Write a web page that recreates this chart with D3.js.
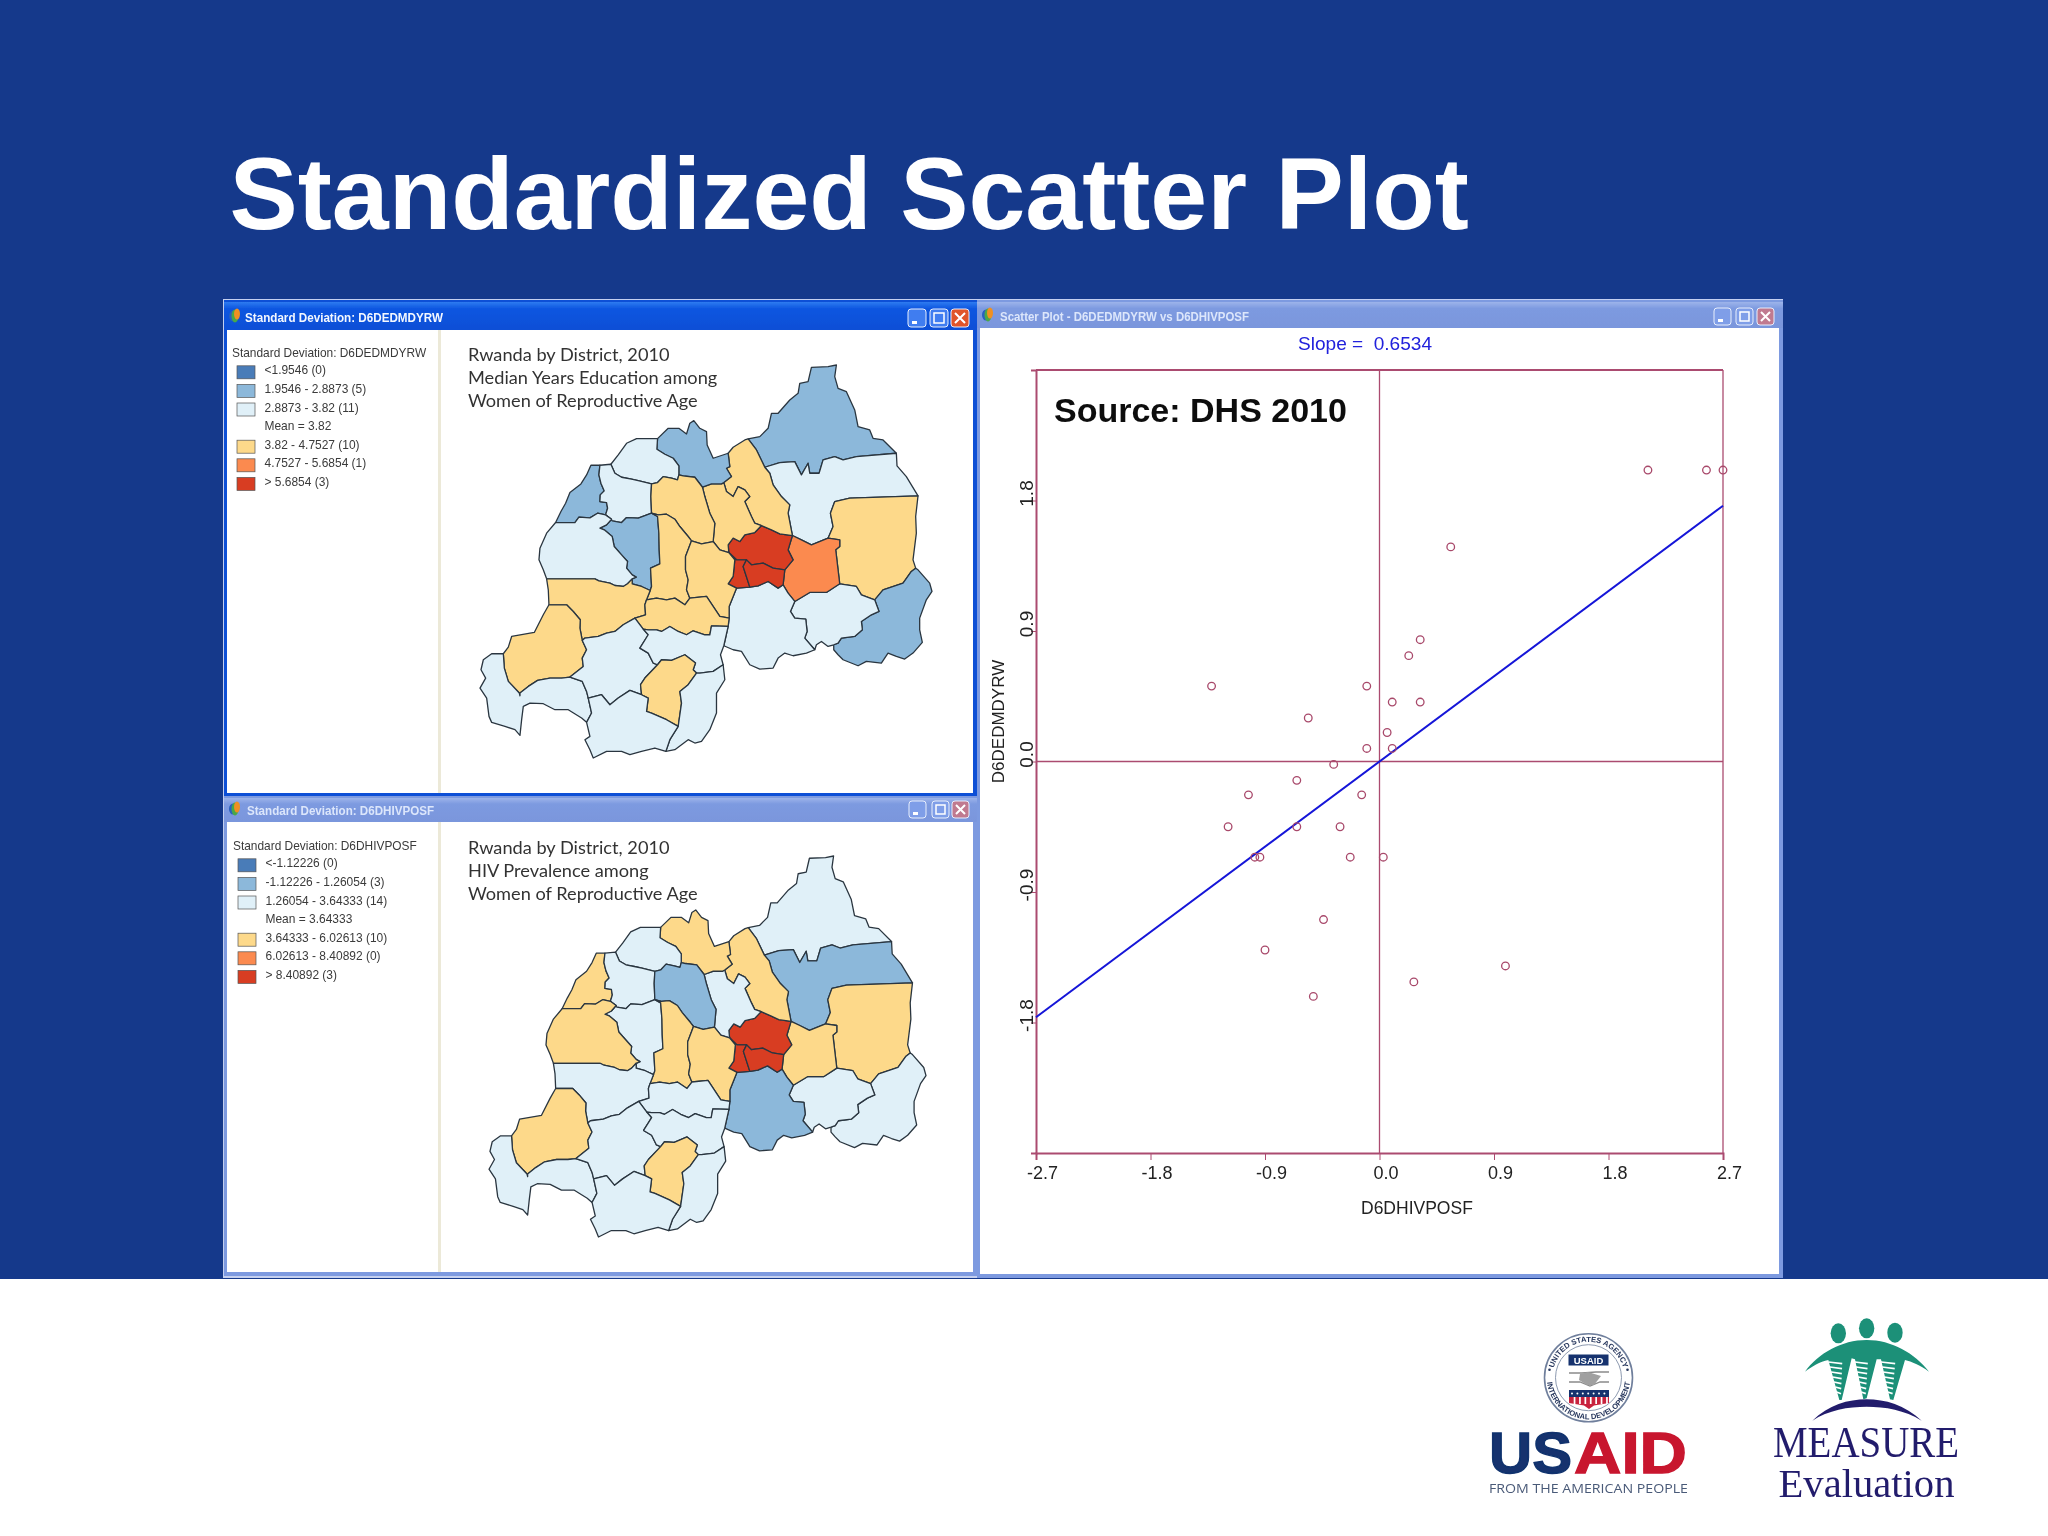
<!DOCTYPE html>
<html lang="en">
<head>
	<meta charset="utf-8">
	<title>Standardized Scatter Plot</title>
	<script type="text/javascript" src="https://cdn.jsdelivr.net/npm/d3@7"></script>
	<style type="text/css">
		html, body {
			margin: 0;
			padding: 0;
			background: #fff;
		}
		svg {
			display: block;
		}
		text {
			font-family: 'Liberation Sans', Arial, sans-serif;
		}
	</style>
</head>
<body>
	<div id="viz"></div>
	<script type="text/javascript">
	const CANVAS_WIDTH = 2048;
	const CANVAS_HEIGHT = 1536;

	// scatter values: standardized HIV prevalence (x) and median years of education (y)
	const hivValues = [2.11, 2.57, 2.70, 0.56, 0.32, 0.23, -1.32, -0.10, 0.10, 0.32, -0.56, 0.06, -0.10, 0.10, -0.36, -0.65, -1.03, -0.14, -1.19, -0.65, -0.31, -0.98, -0.94, -0.23, 0.03, -0.44, -0.90, 0.99, 0.27, -0.52];
	const eduValues = [2.01, 2.01, 2.01, 1.48, 0.84, 0.73, 0.52, 0.52, 0.41, 0.41, 0.30, 0.20, 0.09, 0.09, -0.02, -0.13, -0.23, -0.23, -0.45, -0.45, -0.45, -0.66, -0.66, -0.66, -0.66, -1.09, -1.30, -1.41, -1.52, -1.62];
	const slope = 0.6534;
	const axisTicks = [-2.7, -1.8, -0.9, 0, 0.9, 1.8, 2.7];

	// legends
	const classColors = ['#4a7cb8', '#8cb8da', '#e0f0f8', '#fdd98a', '#fb8a50', '#d83c22'];
	const eduLegend = ['<1.9546 (0)', '1.9546 - 2.8873 (5)', '2.8873 - 3.82 (11)', 'Mean = 3.82', '3.82 - 4.7527 (10)', '4.7527 - 5.6854 (1)', '> 5.6854 (3)'];
	const hivLegend = ['<-1.12226 (0)', '-1.12226 - 1.26054 (3)', '1.26054 - 3.64333 (14)', 'Mean = 3.64333', '3.64333 - 6.02613 (10)', '6.02613 - 8.40892 (0)', '> 8.40892 (3)'];
	const legendClass = [0, 1, 2, null, 3, 4, 5];

	const eduTitle = ['Rwanda by District, 2010', 'Median Years Education among', 'Women of Reproductive Age'];
	const hivTitle = ['Rwanda by District, 2010', 'HIV Prevalence among', 'Women of Reproductive Age'];

	// district borders in map units, each arc shared by the districts on both sides
	const borderArcs = {
		a01: [[375,316],[348,316],[335,345],[318,372],[285,398],[272,430],[258,455],[242,488]],
		a02: [[375,316],[372,345],[378,370],[388,393],[376,405],[375,425],[395,428],[398,445],[392,465]],
		a03: [[242,488],[300,488],[312,472],[345,474],[368,460],[392,465]],
		a04: [[242,488],[215,520],[195,565],[192,600],[205,630],[215,657]],
		a05: [[215,657],[360,657],[372,663],[405,670],[420,677],[445,680],[458,672],[472,657]],
		a06: [[392,465],[410,478],[395,495],[375,505],[388,510],[412,530],[418,560],[440,585],[458,605],[455,625],[472,645],[484,652],[472,657]],
		a07: [[392,465],[412,483],[440,488],[455,473],[490,475],[530,460]],
		a08: [[530,460],[548,470],[552,520],[553,570],[555,612],[527,625],[530,680],[526,692]],
		a09: [[472,657],[472,672],[500,680],[526,692]],
		a10: [[408,313],[420,340],[440,352],[470,358],[490,362],[530,372]],
		a11: [[375,316],[408,313]],
		a12: [[530,372],[528,410],[530,460]],
		a13: [[408,313],[430,285],[455,250],[485,236],[548,236]],
		a14: [[548,236],[546,268],[570,283],[595,295],[612,318],[612,345]],
		a15: [[530,372],[548,368],[565,350],[590,355],[608,360],[612,345]],
		a16: [[548,236],[580,205],[612,205],[635,222],[645,190],[657,182],[675,205],[695,215],[697,255],[715,295],[760,280]],
		a17: [[760,280],[765,320],[755,325],[770,350],[747,368]],
		a18: [[683,382],[710,372],[740,372],[747,368]],
		a19: [[612,345],[625,348],[660,352],[683,382]],
		a20: [[683,382],[690,410],[705,460],[720,490],[715,545]],
		a21: [[715,545],[680,552],[650,543]],
		a22: [[650,543],[640,530],[615,500],[600,478],[575,463],[550,465],[530,460]],
		a23: [[747,368],[755,395],[775,410],[790,380],[810,390],[825,410],[810,425],[830,470],[840,490],[860,497]],
		a24: [[860,497],[840,518],[810,525],[795,545],[775,535],[760,555],[762,578]],
		a25: [[715,545],[735,570],[762,578]],
		a26: [[760,280],[775,262],[810,240],[820,237]],
		a27: [[820,237],[845,270],[870,322]],
		a28: [[870,322],[885,340],[895,375],[920,410],[945,435],[940,460],[953,527]],
		a29: [[860,497],[890,510],[915,522],[953,527]],
		a30: [[820,237],[855,230],[880,205],[890,160],[910,160],[945,120],[970,100],[975,70],[1000,65],[1010,22],[1060,20],[1085,15],[1080,50],[1090,85],[1115,95],[1140,150],[1150,200],[1185,210],[1195,235],[1225,240],[1265,280]],
		a31: [[870,322],[915,308],[960,305],[980,345],[1000,310],[1005,340],[1033,340],[1045,300],[1080,290],[1105,300],[1145,290],[1265,280]],
		a32: [[1265,280],[1267,318],[1295,350],[1330,408]],
		a33: [[1060,535],[1075,500],[1067,460],[1080,425],[1125,415],[1330,408]],
		a34: [[953,527],[980,540],[1010,555],[1060,535]],
		a35: [[1330,408],[1323,470],[1325,520],[1315,600],[1323,625]],
		a36: [[1323,625],[1310,635],[1285,670],[1225,690],[1200,720]],
		a37: [[1095,672],[1145,680],[1160,705],[1200,720]],
		a38: [[1060,535],[1095,540],[1095,560],[1083,570],[1090,630],[1095,672]],
		a39: [[1095,672],[1055,698],[1005,698],[960,725]],
		a40: [[960,725],[940,700],[925,675]],
		a41: [[925,675],[930,630]],
		a42: [[930,630],[955,600],[940,570],[953,527]],
		a43: [[930,630],[895,625],[865,610],[830,615],[815,600]],
		a44: [[815,600],[785,600],[762,578]],
		a45: [[815,600],[805,620],[825,682]],
		a46: [[825,682],[785,685]],
		a47: [[785,685],[760,672],[775,650],[780,600],[762,578]],
		a48: [[925,675],[910,685],[880,665],[850,678],[825,682]],
		a49: [[960,725],[947,755],[960,775],[993,778],[997,815],[990,835],[1020,870]],
		a50: [[1020,870],[995,880],[955,888],[930,880],[910,895],[895,925],[855,928],[825,915],[800,875],[775,870],[747,858]],
		a51: [[747,858],[760,800]],
		a52: [[760,800],[763,775]],
		a53: [[763,775],[763,740],[785,685]],
		a54: [[1200,720],[1213,755],[1190,765],[1160,785],[1163,810],[1140,830],[1100,835],[1090,850],[1077,855]],
		a55: [[1077,855],[1060,860],[1040,845],[1025,855],[1020,870]],
		a56: [[1323,625],[1330,630],[1365,670],[1372,695],[1355,720],[1335,775],[1335,810],[1343,848],[1315,880],[1290,898],[1265,890],[1240,880],[1220,910],[1175,905],[1150,918],[1105,900],[1090,885],[1077,870],[1077,855]],
		a57: [[763,775],[735,770],[695,710],[645,715]],
		a58: [[645,715],[635,690],[640,660],[632,630],[632,590],[650,543]],
		a59: [[526,692],[515,720]],
		a60: [[515,720],[545,715],[575,720],[600,715],[630,735],[645,715]],
		a61: [[760,800],[710,798],[705,825],[690,825],[655,813],[635,825],[610,815],[585,800],[560,815],[545,810],[520,810],[505,808]],
		a62: [[505,808],[480,775]],
		a63: [[480,775],[512,765],[510,735],[515,720]],
		a64: [[480,775],[445,795],[420,815],[395,820],[370,830],[330,835],[322,842]],
		a65: [[322,842],[315,805],[316,780],[295,755],[275,735],[222,735]],
		a66: [[222,735],[220,690],[215,657]],
		a67: [[322,842],[335,870],[322,895],[325,920],[285,952]],
		a68: [[285,952],[260,955],[225,955],[188,962],[160,980],[135,1000],[135,1008],[133,1000],[100,965],[88,925],[85,882]],
		a69: [[85,882],[100,862],[110,830],[178,818],[205,765],[222,735]],
		a70: [[285,952],[322,965],[335,995],[340,1015]],
		a71: [[340,1015],[350,1060],[335,1088]],
		a72: [[335,1088],[320,1075],[280,1050],[240,1050],[205,1032],[165,1030],[145,1040],[140,1080],[135,1127],[120,1110],[90,1100],[50,1088],[42,1070],[35,1015],[15,985],[32,955],[18,930],[25,900],[50,882],[85,882]],
		a73: [[505,808],[520,825],[495,865],[520,880],[535,910],[548,915]],
		a74: [[548,915],[510,955],[497,975],[500,1005]],
		a75: [[500,1005],[465,992],[430,1015],[405,1035],[380,1005],[340,1015]],
		a76: [[745,915],[715,935],[675,940],[665,940]],
		a77: [[665,940],[655,930],[662,910],[630,885],[590,902],[560,900],[548,915]],
		a78: [[500,1005],[520,1015],[515,1055],[530,1060],[575,1080],[610,1100]],
		a79: [[610,1100],[620,1030],[615,995],[640,975],[665,940]],
		a80: [[610,1100],[585,1140],[573,1175]],
		a81: [[573,1175],[600,1170],[640,1140],[660,1150],[680,1145],[705,1110],[725,1060],[725,1000],[750,960],[745,915]],
		a82: [[747,858],[737,885],[745,915]],
		a83: [[573,1175],[540,1165],[500,1175],[465,1185],[440,1175],[395,1175],[355,1195],[345,1170],[330,1140],[345,1130],[335,1088]]
	};

	const districtNames = ['Nyagatare', 'Gatsibo', 'Kayonza', 'Kirehe', 'Ngoma', 'Rwamagana', 'Bugesera', 'Gasabo', 'Nyarugenge', 'Kicukiro', 'Gicumbi', 'Rulindo', 'Burera', 'Musanze', 'Rubavu', 'Nyabihu', 'Gakenke', 'Ngororero', 'Rutsiro', 'Muhanga', 'Kamonyi', 'Karongi', 'Ruhango', 'Nyamasheke', 'Rusizi', 'Nyamagabe', 'Nyanza', 'Huye', 'Gisagara', 'Nyaruguru'];
	const districtRings = [
		['a30','-a31','-a27'], ['a31','a32','-a33','-a34','-a28'], ['a33','a35','a36','-a37','-a38'], ['-a36','a56','-a54'], ['-a39','a37','a54','a55','-a49'],
		['a34','a38','a39','a40','a41','a42'], ['-a48','-a40','a49','a50','a51','a52','a53','-a46'], ['a29','-a42','a43','a44','-a24'], ['-a44','a45','a46','a47'], ['-a43','-a41','a48','-a45'],
		['a26','a27','a28','-a29','-a23','-a17'], ['a18','a23','a24','-a25','-a20'], ['a16','a17','-a18','-a19','-a14'], ['a13','a14','-a15','-a10'], ['a01','a03','-a02'],
		['a11','a10','a12','-a07','-a02'], ['a15','a19','a20','a21','a22','-a12'], ['a07','a08','-a09','-a06'], ['a04','a05','-a06','-a03'], ['a08','a59','a60','a58','a22'],
		['-a21','a25','-a47','-a53','a57','a58'], ['a05','a09','a59','-a63','a64','a65','a66'], ['a60','-a57','-a52','a61','a62','a63'], ['-a65','a67','a68','a69'], ['-a68','a70','a71','a72'],
		['-a64','-a62','a73','a74','a75','-a70','-a67'], ['-a61','-a51','a82','a76','a77','-a73'], ['a74','a78','a79','a77'], ['-a79','a80','a81','a76'], ['-a75','a78','a80','a83','-a71']
	];
	const eduClass = [1,2,3,1,2,4,2,5,5,5,3,3,1,2,1,2,3,1,2,3,3,3,3,3,2,2,2,3,2,2];
	const hivClass = [2,1,3,2,2,3,1,5,5,5,3,2,3,2,3,2,1,2,3,3,3,2,2,3,2,2,2,3,2,2];

	const svg = d3.select('#viz').append('svg')
		.attr('width', CANVAS_WIDTH)
		.attr('height', CANVAS_HEIGHT);

	const defs = svg.append('defs');
	defs.append('filter').attr('id', 'soft').attr('x', 0).attr('y', 0).attr('width', 1).attr('height', 1)
		.append('feGaussianBlur').attr('stdDeviation', 0.45);
	function titleGradient(id, c1, c2, c3) {
		var g = defs.append('linearGradient').attr('id', id).attr('x1', 0).attr('y1', 0).attr('x2', 0).attr('y2', 1);
		g.append('stop').attr('offset', 0).attr('stop-color', c1);
		g.append('stop').attr('offset', 0.25).attr('stop-color', c2);
		g.append('stop').attr('offset', 1).attr('stop-color', c3);
	}
	titleGradient('activeBar', '#2f7bf0', '#0a55e0', '#0b4fd6');
	titleGradient('idleBar', '#9db4ea', '#7d9ae0', '#7a96dc');

	// slide background
	svg.append('rect').attr('width', CANVAS_WIDTH).attr('height', 1279).attr('fill', '#15398b');
	svg.append('text').attr('x', 229.5).attr('y', 229)
		.attr('font-size', 102.3).attr('font-weight', 'bold').attr('fill', '#fff')
		.text('Standardized Scatter Plot');

	const desk = svg.append('g').attr('filter', 'url(#soft)');
	desk.append('rect').attr('x', 223).attr('y', 299).attr('width', 1560).attr('height', 979).attr('fill', '#c4d0f0');

	function addText(g, x, y, str, size, fill, k) {
		var t = g.append('text').attr('x', x).attr('y', y).attr('font-size', size).attr('fill', fill).text(str);
		if (k) {
			t.attr('textLength', t.node().getComputedTextLength() * k).attr('lengthAdjust', 'spacingAndGlyphs');
		}
		return t;
	}

	function drawWindow(opt) {
		var g = desk.append('g');
		g.append('rect').attr('x', opt.x0).attr('y', opt.y0).attr('width', opt.x1 - opt.x0).attr('height', opt.y1 - opt.y0)
			.attr('fill', opt.active ? '#0b4fd6' : '#7d9ae0');
		g.append('rect').attr('x', opt.x0 + 3).attr('y', opt.barBottom).attr('width', opt.x1 - opt.x0 - 7).attr('height', opt.y1 - opt.barBottom - 4)
			.attr('fill', '#fff');
		g.append('rect').attr('x', opt.x0).attr('y', opt.y0 + 2).attr('width', opt.x1 - opt.x0).attr('height', opt.barBottom - opt.y0 - 2)
			.attr('fill', opt.active ? 'url(#activeBar)' : 'url(#idleBar)');
		// app icon
		g.append('ellipse').attr('cx', opt.x0 + 9).attr('cy', opt.textY - 6).attr('rx', 4).attr('ry', 5.5).attr('fill', '#2a60c0');
		g.append('ellipse').attr('cx', opt.x0 + 11).attr('cy', opt.textY - 6).attr('rx', 3.5).attr('ry', 6.5).attr('fill', '#4aa848');
		g.append('ellipse').attr('cx', opt.x0 + 13).attr('cy', opt.textY - 8).attr('rx', 3).attr('ry', 5.5).attr('fill', '#f09020');
		var t = addText(g, opt.textX, opt.textY, opt.title, 13, opt.active ? '#f4f8ff' : '#dce6fb');
		t.attr('font-weight', 'bold').attr('textLength', opt.titleWidth).attr('lengthAdjust', 'spacingAndGlyphs');
		// min, max and close buttons
		opt.buttons.forEach(function(bx, i) {
			var size = opt.btnSize;
			g.append('rect').attr('x', bx).attr('y', opt.btnY).attr('width', size).attr('height', size).attr('rx', 3)
				.attr('fill', i == 2 ? (opt.active ? '#e0552c' : '#c07a90') : (opt.active ? '#3f7df0' : '#7f9ee8'))
				.attr('stroke', '#e8eefc').attr('stroke-width', 1);
			if (i == 0) {
				g.append('rect').attr('x', bx + 4).attr('y', opt.btnY + size - 6).attr('width', 5).attr('height', 3).attr('fill', '#fff');
			} else if (i == 1) {
				g.append('rect').attr('x', bx + 4).attr('y', opt.btnY + 4).attr('width', size - 8).attr('height', size - 8)
					.attr('fill', 'none').attr('stroke', '#fff').attr('stroke-width', 1.5);
			} else {
				g.append('path').attr('d', 'M' + (bx + 4) + ',' + (opt.btnY + 4) + 'L' + (bx + size - 4) + ',' + (opt.btnY + size - 4)
					+ 'M' + (bx + size - 4) + ',' + (opt.btnY + 4) + 'L' + (bx + 4) + ',' + (opt.btnY + size - 4))
					.attr('stroke', '#fff').attr('stroke-width', 2);
			}
		});
		return g;
	}

	function ringPoints(ring) {
		var pts = [];
		ring.forEach(function(key) {
			var arc = key[0] == '-' ? borderArcs[key.slice(1)].slice().reverse() : borderArcs[key];
			pts = pts.concat(pts.length ? arc.slice(1) : arc);
		});
		return pts;
	}

	// one map window: legend column on the left and choropleth to its right
	function drawMapPanel(opt) {
		var g = drawWindow(opt);
		g.append('rect').attr('x', 438).attr('y', opt.barBottom).attr('width', 3).attr('height', opt.y1 - opt.barBottom - 4).attr('fill', '#ece9d8');

		addText(g, opt.legendX, opt.headerY, opt.legendTitle, 13, '#3a3a3a', 0.915);
		var rowY = d3.scaleLinear().domain([0, 6]).range([opt.rowY0, opt.rowY0 + 6 * 18.6]);
		opt.legend.forEach(function(label, i) {
			if (legendClass[i] !== null) {
				g.append('rect').attr('x', opt.legendX + 5).attr('y', rowY(i) - 8.5).attr('width', 18).attr('height', 13)
					.attr('fill', classColors[legendClass[i]]).attr('stroke', '#555').attr('stroke-width', 0.7);
			}
			addText(g, opt.legendX + 32.5, rowY(i), label, 13, '#3a3a3a', 0.92);
		});

		opt.titles.forEach(function(line, i) {
			addText(g, 468, opt.titleY + i * 23, line, 18.2, '#333').style('font-family', 'Lato, sans-serif');
		});

		var mapX = d3.scaleLinear().domain([15, 1372]).range(opt.mapX);
		var mapY = d3.scaleLinear().domain([15, 1195]).range(opt.mapY);
		var line = d3.line().x(function(d) { return mapX(d[0]); }).y(function(d) { return mapY(d[1]); }).curve(d3.curveLinearClosed);
		g.selectAll('path.district').data(districtNames).enter().append('path')
			.attr('class', 'district')
			.attr('d', function(d, i) { return line(ringPoints(districtRings[i])); })
			.attr('fill', function(d, i) { return classColors[opt.classes[i]]; })
			.attr('stroke', '#2a3640').attr('stroke-width', 1.3).attr('stroke-linejoin', 'round');
	}

	drawMapPanel({
		x0: 224, x1: 977, y0: 300, y1: 797, barBottom: 330, textX: 245, textY: 322, title: 'Standard Deviation: D6DEDMDYRW', titleWidth: 198,
		active: true, buttons: [908, 930, 951], btnY: 309, btnSize: 18,
		legendX: 232, headerY: 357, legendTitle: 'Standard Deviation: D6DEDMDYRW', rowY0: 374.3, legend: eduLegend,
		titles: eduTitle, titleY: 360.5, classes: eduClass, mapX: [480, 932], mapY: [365, 758]
	});
	drawMapPanel({
		x0: 224, x1: 977, y0: 796, y1: 1276, barBottom: 822, textX: 247, textY: 815, title: 'Standard Deviation: D6DHIVPOSF', titleWidth: 187,
		active: false, buttons: [909, 932, 952], btnY: 801, btnSize: 17,
		legendX: 233, headerY: 850, legendTitle: 'Standard Deviation: D6DHIVPOSF', rowY0: 867.3, legend: hivLegend,
		titles: hivTitle, titleY: 853.5, classes: hivClass, mapX: [489, 926], mapY: [856, 1237]
	});

	// scatter window
	const scatterWin = drawWindow({
		x0: 977, x1: 1783, y0: 300, y1: 1278, barBottom: 328, textX: 1000, textY: 321, title: 'Scatter Plot - D6DEDMDYRW vs D6DHIVPOSF', titleWidth: 249,
		active: false, buttons: [1714, 1736, 1757], btnY: 308, btnSize: 17
	});

	const plotColor = '#ab4c70';
	const x = d3.scaleLinear().domain([-2.7, 2.7]).range([1036, 1723]);
	const y = d3.scaleLinear().domain([-2.7, 2.7]).range([1153, 370]);

	const xAxis = scatterWin.append('g').attr('transform', 'translate(0,' + y(-2.7) + ')')
		.call(d3.axisBottom(x).tickValues(axisTicks).tickSize(7).tickFormat(function(d) { return d.toFixed(1); }));
	const yAxis = scatterWin.append('g').attr('transform', 'translate(' + x(-2.7) + ',0)')
		.call(d3.axisLeft(y).tickValues(axisTicks.slice(1, 6)).tickSize(5).tickFormat(function(d) { return d.toFixed(1); }));
	[xAxis, yAxis].forEach(function(a) {
		a.selectAll('path, line').attr('stroke', plotColor);
		a.select('path').attr('stroke-width', 2);
		a.selectAll('text').attr('fill', '#222').attr('font-family', "'Liberation Sans', sans-serif");
	});
	xAxis.selectAll('text').attr('font-size', 18).attr('dx', 6).attr('y', 26).attr('dy', 0);
	yAxis.selectAll('text').attr('font-size', 19).attr('text-anchor', 'middle').attr('dy', 0)
		.attr('x', 0).attr('y', 0)
		.attr('transform', 'translate(-3.5,-7.5) rotate(-90)');

	scatterWin.append('line').attr('x1', x(-2.7)).attr('x2', x(2.7)).attr('y1', y(2.7)).attr('y2', y(2.7)).attr('stroke', plotColor).attr('stroke-width', 2);
	scatterWin.append('line').attr('x1', x(2.7)).attr('x2', x(2.7)).attr('y1', y(2.7)).attr('y2', y(-2.7)).attr('stroke', plotColor).attr('stroke-width', 1.3);
	scatterWin.append('line').attr('x1', x(0)).attr('x2', x(0)).attr('y1', y(2.7)).attr('y2', y(-2.7)).attr('stroke', plotColor).attr('stroke-width', 1.3);
	scatterWin.append('line').attr('x1', x(-2.7)).attr('x2', x(2.7)).attr('y1', y(0)).attr('y2', y(0)).attr('stroke', plotColor).attr('stroke-width', 1.6);

	scatterWin.append('line')
		.attr('x1', x(-2.7)).attr('y1', y(-2.7 * slope))
		.attr('x2', x(2.7)).attr('y2', y(2.7 * slope))
		.attr('stroke', '#1414d8').attr('stroke-width', 2);

	scatterWin.selectAll('circle').data(hivValues).enter().append('circle')
		.attr('cx', function(d) { return x(d); })
		.attr('cy', function(d, i) { return y(eduValues[i]); })
		.attr('r', 3.8)
		.attr('fill', 'none').attr('stroke', '#a8486a').attr('stroke-width', 1.3);

	addText(scatterWin, 1298, 350, 'Slope =  0.6534', 19, '#2020dc', 0)
		.style('white-space', 'pre').attr('textLength', 134).attr('lengthAdjust', 'spacingAndGlyphs');
	addText(scatterWin, 1054, 422, 'Source: DHS 2010', 34, '#111', 0).attr('font-weight', 'bold');
	addText(scatterWin, 1361, 1214, 'D6DHIVPOSF', 17.5, '#222', 0);
	scatterWin.append('text').attr('transform', 'translate(1004,721.5) rotate(-90)')
		.attr('text-anchor', 'middle').attr('font-size', 17).attr('fill', '#222').text('D6DEDMDYRW');

	// funder logos under the slide
	const logos = svg.append('g').attr('filter', 'url(#soft)');

	function drawUsaid(g) {
		var cx = 1588.5, cy = 1377.7, inkBlue = '#12336e', inkRed = '#c8243c', ringInk = '#26365c';
		g.append('circle').attr('cx', cx).attr('cy', cy).attr('r', 44).attr('fill', '#fff').attr('stroke', '#6f7f9c').attr('stroke-width', 1.6);
		g.append('circle').attr('cx', cx).attr('cy', cy).attr('r', 33).attr('fill', '#fff').attr('stroke', '#8d9ab0').attr('stroke-width', 1);
		defs.append('path').attr('id', 'sealTop').attr('d', 'M' + (cx - 36) + ',' + (cy + 4) + 'A36.2,36.2 0 1 1 ' + (cx + 36) + ',' + (cy + 4));
		defs.append('path').attr('id', 'sealBottom').attr('d', 'M' + (cx - 41.5) + ',' + (cy + 4) + 'A41.7,41.7 0 0 0 ' + (cx + 41.5) + ',' + (cy + 4));
		g.append('text').attr('font-size', 7.6).attr('font-weight', 'bold').attr('fill', ringInk)
			.append('textPath').attr('href', '#sealTop').attr('startOffset', '50%').attr('text-anchor', 'middle').text('UNITED STATES AGENCY');
		g.append('text').attr('font-size', 7.6).attr('font-weight', 'bold').attr('fill', ringInk)
			.append('textPath').attr('href', '#sealBottom').attr('startOffset', '50%').attr('text-anchor', 'middle').text('INTERNATIONAL DEVELOPMENT');
		[-1, 1].forEach(function(side) {
			g.append('circle').attr('cx', cx + side * 39).attr('cy', cy - 8).attr('r', 1.3).attr('fill', ringInk);
		});
		g.append('rect').attr('x', cx - 20).attr('y', 1354.5).attr('width', 40).attr('height', 11).attr('fill', inkBlue);
		g.append('text').attr('x', cx).attr('y', 1363.7).attr('text-anchor', 'middle').attr('font-size', 9.5).attr('font-weight', 'bold').attr('fill', '#fff').text('USAID');
		// handshake
		g.append('path').attr('d', 'M1569,1373H1582L1596,1372H1609M1569,1382H1580L1590,1386L1600,1382H1609').attr('fill', 'none').attr('stroke', '#8a8a8a').attr('stroke-width', 1.3);
		g.append('path').attr('d', 'M1580,1374L1588,1372L1601,1376L1594,1385L1587,1385L1579,1380Z').attr('fill', '#a0a0a0');
		// shield with stars and stripes
		g.append('rect').attr('x', 1569).attr('y', 1390).attr('width', 40).attr('height', 7).attr('fill', inkBlue);
		g.append('path').attr('d', 'M1569,1397H1609V1403L1594,1405.5L1589,1409L1584,1405.5L1569,1403Z').attr('fill', inkRed);
		d3.range(1572, 1608, 5.4).forEach(function(sx) {
			g.append('circle').attr('cx', sx).attr('cy', 1393.5).attr('r', 1).attr('fill', '#fff');
			g.append('rect').attr('x', sx + 1.7).attr('y', 1397).attr('width', 1.7).attr('height', 7).attr('fill', '#fff');
		});
		g.append('text').attr('x', 1489).attr('y', 1473).attr('font-size', 58).attr('font-weight', 'bold').attr('fill', inkBlue)
			.attr('stroke', inkBlue).attr('stroke-width', 1.3)
			.attr('textLength', 83).attr('lengthAdjust', 'spacingAndGlyphs').text('US');
		g.append('text').attr('x', 1574).attr('y', 1473).attr('font-size', 58).attr('font-weight', 'bold').attr('fill', '#c8142e')
			.attr('stroke', '#c8142e').attr('stroke-width', 1.3)
			.attr('textLength', 113).attr('lengthAdjust', 'spacingAndGlyphs').text('AID');
		g.append('text').attr('x', 1489).attr('y', 1492.5).attr('font-size', 13.5).attr('fill', '#4a5a78')
			.attr('textLength', 199).attr('lengthAdjust', 'spacingAndGlyphs').style('font-family', "'Open Sans', sans-serif").text('FROM THE AMERICAN PEOPLE');
	}

	function drawMeasure(g) {
		var teal = '#1a9078', navy = '#231c6c';
		// figure drawn at 3x and scaled down into place
		var fig = g.append('g').attr('transform', 'translate(1795,1310) scale(0.3333)');
		[[130, 70], [215, 55], [300, 68]].forEach(function(h) {
			fig.append('ellipse').attr('cx', h[0]).attr('cy', h[1]).attr('rx', 23).attr('ry', 30).attr('fill', teal);
		});
		fig.append('path').attr('d', 'M30,185C70,130 140,90 215,90C290,90 360,130 402,185C375,165 350,155 330,150L295,270L285,268L258,148L245,148L215,265L205,268L180,148L170,145L140,270L133,270L100,150C75,155 50,170 30,185Z').attr('fill', teal);
		// rungs cut into the left side of each body
		[[100, 133, 170, 140], [180, 205, 245, 215], [258, 285, 330, 295]].forEach(function(b) {
			d3.range(158, 262, 15).forEach(function(ry) {
				var t = (ry - 150) / 120;
				var left = b[0] + (b[1] - b[0]) * t;
				var right = b[2] + (b[3] - b[2]) * t;
				fig.append('line').attr('x1', left - 2).attr('y1', ry - 2)
					.attr('x2', left + (right - left) * 0.6).attr('y2', ry + 3)
					.attr('stroke', '#fff').attr('stroke-width', 5);
			});
		});
		fig.append('path').attr('d', 'M52,332C100,285 160,268 215,268C270,268 330,285 380,332C330,300 270,290 215,290C160,290 100,300 52,332Z').attr('fill', navy);
		g.append('text').attr('x', 1773).attr('y', 1457).attr('font-size', 44).attr('fill', navy)
			.attr('textLength', 186).attr('lengthAdjust', 'spacingAndGlyphs').style('font-family', "'Liberation Serif', serif").text('MEASURE');
		g.append('text').attr('x', 1778.5).attr('y', 1497).attr('font-size', 39).attr('fill', navy)
			.attr('textLength', 176).attr('lengthAdjust', 'spacingAndGlyphs').style('font-family', "'Liberation Serif', serif").text('Evaluation');
	}

	drawUsaid(logos);
	drawMeasure(logos);
	</script>
</body>
</html>
